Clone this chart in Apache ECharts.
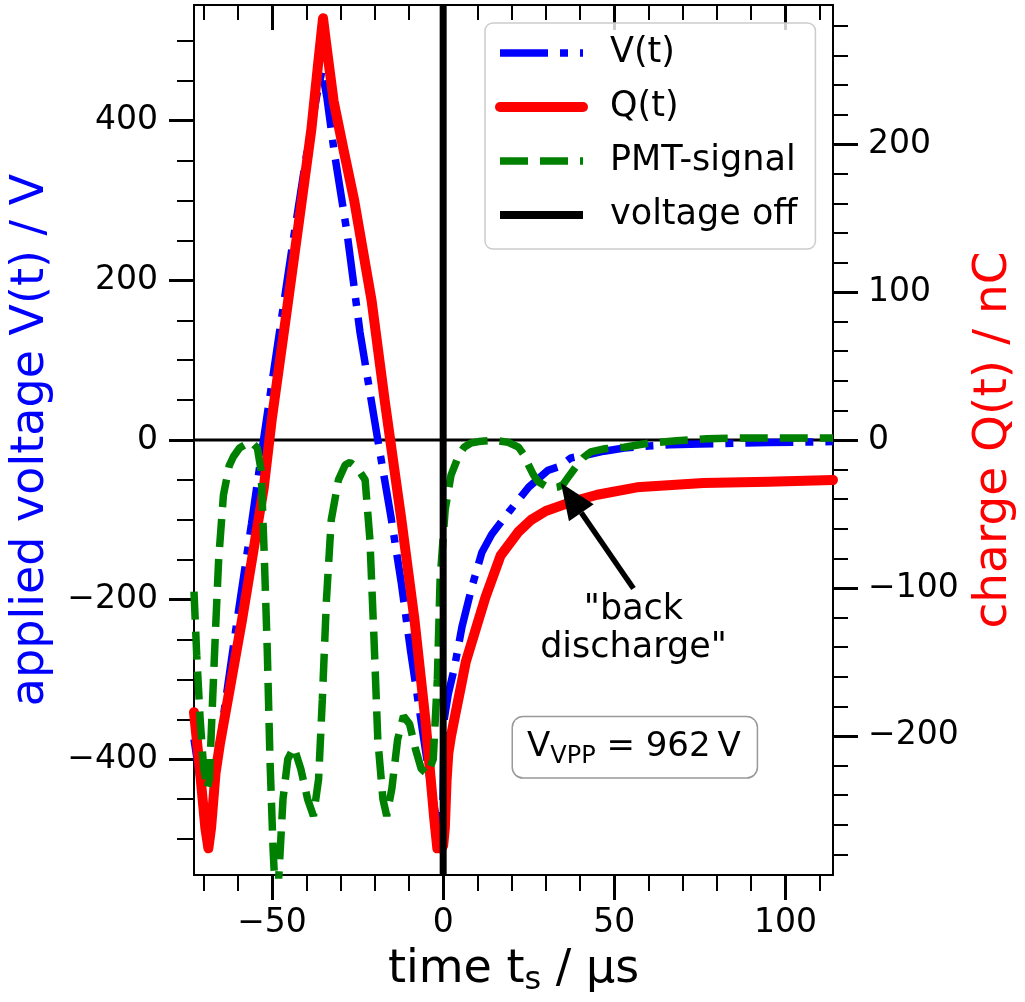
<!DOCTYPE html>
<html lang="en">
  <head>
    <meta charset="UTF-8" />
    <title>Voltage, charge and PMT signal</title>
    <script src="https://cdn.jsdelivr.net/npm/echarts@6/dist/echarts.min.js"></script>
  </head>
  <body style="margin: 0">
    <div id="main" style="width: 1025px; height: 1002px"></div>
    <script type="text/javascript">
      var FONT = "DejaVu Sans";

      // axis ranges
      var X_MIN = -72.8, X_MAX = 113.9;
      var V_MIN = -545, V_MAX = 545;
      var Q_MIN = -294, Q_MAX = 294;

      // tick values
      var xMajor = [-50, 0, 50, 100];
      var xMinor = [-70, -60, -40, -30, -20, -10, 10, 20, 30, 40, 60, 70, 80, 90, 110];
      var vMajor = [-400, -200, 0, 200, 400];
      var vMinor = [-500, -450, -350, -300, -250, -150, -100, -50, 50, 100, 150, 250, 300, 350, 450, 500];
      var qMajor = [-200, -100, 0, 100, 200];
      var qMinor = [-280, -260, -240, -220, -180, -160, -140, -120, -80, -60, -40, -20,
                    20, 40, 60, 80, 120, 140, 160, 180, 220, 240, 260, 280];

      // applied voltage V(t) in V
      var tV = [-72.8, -70.5, -68.6, -67, -64, -60, -56, -52.5, -48, -44, -40, -37, -35.4,
                -34, -31.8, -28.1, -24.3, -19.1, -15.3, -12.2, -9.5, -6, -3, -1.2, -0.2,
                0.3, 1.5, 3.2, 5.5, 8.4, 11.3, 14.2, 19.4, 25, 30.6, 34.1, 37.3, 42.8, 47,
                52.9, 60, 66.2, 75, 85.5, 95, 109.5, 113.9];
      var vV = [-375, -440, -495, -440, -340, -220, -105, 0, 130, 245, 355, 430, 463,
                430, 360, 260, 135, 0, -95, -180, -265, -365, -450, -495, -490,
                -350, -318, -287, -234, -184, -141, -118, -89, -59, -38, -33, -22.5, -18, -14,
                -10, -7.5, -6, -5, -4, -3, -2.5, -2];

      // charge Q(t) in nC
      var tQ = [-72.8, -71, -69.5, -68.6, -67.8, -66.5, -65.2, -62.1, -58.8, -55.6, -52.4, -50.1,
                -46, -42, -38.5, -36.5, -35.1, -34.3, -32, -29, -26, -20.9, -17.1, -12.2, -8.4,
                -5.2, -2.6, -1.7, -0.5, 0, 0.5, 1, 1.5, 2.3, 3.5, 5.5, 6.6, 9.5, 12.4, 16.8, 22,
                25.7, 30, 37.3, 45, 56.6, 76, 95, 113.9];
      var qQ = [-184, -225, -262, -276, -262, -225, -205, -165, -122, -77, -32, 13.5,
                82, 150, 210, 255, 285, 270, 229, 195, 162, 94, 27, -54, -121,
                -189, -256, -276, -276, -274, -262, -230, -212, -200, -186, -163, -150, -128, -106, -78, -62,
                -54, -48, -42, -37, -32, -29, -28.3, -27];

      // PMT signal (scaled to the voltage axis)
      var tP = [-72.8, -72, -71, -70, -69, -68.3, -67.6, -66.5, -65.6, -64.2, -62.5, -61.3, -59.5,
                -57.5, -56.1, -55.2, -54.3, -53.2, -52.3, -51.4, -50.6, -49.7, -48.8, -48, -46.8,
                -45.4, -43.6, -41.6, -39.6, -37.9, -36.4, -35.3, -34.1, -32.7, -30.6, -28.6, -27.2,
                -25.1, -22.8, -21.4, -20.2, -19.1, -17.6, -16.5, -15, -13.3, -11.6, -9.8, -8.1,
                -6.4, -4.6, -2.9, -1.7, -0.9, 0.6, 2.3, 4.6, 6.1, 8, 10.4, 13, 16.2, 19, 22, 23.5,
                24.9, 26.3, 27.7, 30, 32.1, 33.5, 35, 36.8, 38.7, 41, 43.1, 47, 52.9, 60, 68.2, 77,
                85.5, 100, 113.9];
      var pP = [-190, -270, -350, -410, -437, -425, -350, -237, -150, -69, -32, -21, -10,
                -5, -2, -6, -10, -38, -141, -262, -400, -512, -590, -545, -450,
                -400, -385, -412, -450, -471, -425, -325, -200, -100, -50, -31, -28,
                -35, -50, -125, -250, -375, -450, -471, -437, -375, -346, -356, -387,
                -412, -419, -400, -300, -175, -87, -44, -19, -9, -4, -2, -1, -1, -3, -9, -18,
                -31, -43, -52, -58, -60, -59, -56, -45, -34, -22, -15, -11, -9, -4, -1, 1.5,
                2.5, 2.5, 2.5];

      var T_OFF = 0; // voltage switched off

      // annotation anchors in data coordinates (t, V)
      var arrowTip = [34.4, -54];
      var arrowTail = [55.6, -186];
      var vppBox = [56, -385];

      function pairs(xs, ys) {
        return xs.map(function (x, i) {
          return [x, ys[i]];
        });
      }
      function fmt(v) {
        return v < 0 ? "\u2212" + Math.abs(v) : String(v);
      }

      var black = "#000000";
      var tickLabel = { fontSize: 33, color: black, fontFamily: FONT, formatter: fmt };
      var frame = { show: true, onZero: false, lineStyle: { color: black, width: 2 } };
      var noLine = { show: false, onZero: false };

      var myChart = echarts.init(document.getElementById("main"));

      var option = {
        animation: false,
        backgroundColor: "#ffffff",
        textStyle: { fontFamily: FONT },
        grid: { left: 192, right: 187, top: 5, bottom: 125 },
        legend: {
          data: [
            { name: "V(t)", lineStyle: { width: 7.5 } },
            { name: "Q(t)", lineStyle: { width: 10 } },
            { name: "PMT-signal", lineStyle: { width: 7.5 } },
            { name: "voltage off", lineStyle: { width: 8 } },
          ],
          orient: "vertical",
          left: 485,
          top: 23,
          itemWidth: 83,
          itemHeight: 14,
          itemGap: 14,
          padding: [10, 18, 14, 10],
          borderColor: "#cccccc",
          borderWidth: 1.5,
          borderRadius: 8,
          backgroundColor: "rgba(255,255,255,0.8)",
          itemStyle: { color: "rgba(0,0,0,0)", borderWidth: 0, opacity: 0 },
          textStyle: { fontSize: 35, fontFamily: FONT, color: black, lineHeight: 40, padding: [0, 0, 0, 22] },
        },
        xAxis: [
          {
            type: "value", position: "bottom", min: X_MIN, max: X_MAX,
            splitLine: { show: false },
            axisLine: frame,
            axisTick: { show: true, customValues: xMajor, length: 25, lineStyle: { color: black, width: 3 } },
            axisLabel: Object.assign({ customValues: xMajor, margin: 32 }, tickLabel),
            name: "{a|time t}{s|s}{a| / \u03bcs}",
            nameLocation: "middle",
            nameGap: 68,
            nameTextStyle: {
              rich: {
                a: { fontSize: 46, lineHeight: 54, color: black, fontFamily: FONT },
                s: { fontSize: 32, lineHeight: 34, verticalAlign: "bottom", color: black, fontFamily: FONT },
              },
            },
          },
          {
            type: "value", position: "bottom", min: X_MIN, max: X_MAX,
            splitLine: { show: false }, axisLine: noLine, axisLabel: { show: false },
            axisTick: { show: true, customValues: xMinor, length: 16, lineStyle: { color: black, width: 2 } },
          },
          {
            type: "value", position: "top", min: X_MIN, max: X_MAX,
            splitLine: { show: false }, axisLabel: { show: false },
            axisLine: frame,
            axisTick: { show: true, inside: true, customValues: xMajor, length: 25, lineStyle: { color: black, width: 3 } },
          },
          {
            type: "value", position: "top", min: X_MIN, max: X_MAX,
            splitLine: { show: false }, axisLine: noLine, axisLabel: { show: false },
            axisTick: { show: true, inside: true, customValues: xMinor, length: 15, lineStyle: { color: black, width: 2 } },
          },
        ],
        yAxis: [
          {
            type: "value", position: "left", min: V_MIN, max: V_MAX,
            splitLine: { show: false },
            axisLine: frame,
            axisTick: { show: true, customValues: vMajor, length: 25, lineStyle: { color: black, width: 3 } },
            axisLabel: Object.assign({ customValues: vMajor, margin: 36 }, tickLabel),
            name: "applied voltage V(t) / V",
            nameLocation: "middle",
            nameRotate: 90,
            nameGap: 140,
            nameTextStyle: { color: "#0000ff", fontSize: 46, fontFamily: FONT },
          },
          {
            type: "value", position: "right", min: Q_MIN, max: Q_MAX,
            splitLine: { show: false },
            axisLine: frame,
            axisTick: { show: true, customValues: qMajor, length: 25, lineStyle: { color: black, width: 3 } },
            axisLabel: Object.assign({ customValues: qMajor, margin: 35 }, tickLabel),
            name: "charge Q(t) / nC",
            nameLocation: "middle",
            nameRotate: 90,
            nameGap: 137,
            nameTextStyle: { color: "#ff0000", fontSize: 47, fontFamily: FONT },
          },
          {
            type: "value", position: "left", min: V_MIN, max: V_MAX,
            splitLine: { show: false }, axisLine: noLine, axisLabel: { show: false },
            axisTick: { show: true, customValues: vMinor, length: 17, lineStyle: { color: black, width: 2 } },
          },
          {
            type: "value", position: "right", min: Q_MIN, max: Q_MAX,
            splitLine: { show: false }, axisLine: noLine, axisLabel: { show: false },
            axisTick: { show: true, customValues: qMinor, length: 15, lineStyle: { color: black, width: 2 } },
          },
        ],
        series: [
          {
            name: "zero",
            type: "line",
            symbol: "none",
            z: 1,
            data: [[X_MIN, 0], [X_MAX, 0]],
            lineStyle: { color: black, width: 3 },
            silent: true,
          },
          {
            name: "V(t)",
            type: "line",
            symbol: "none",
            z: 2,
            data: pairs(tV, vV),
            lineStyle: { color: "#0000ff", width: 7.5, type: [48, 12, 8, 12], cap: "butt" },
            itemStyle: { color: "#0000ff" },
          },
          {
            name: "Q(t)",
            type: "line",
            symbol: "none",
            yAxisIndex: 1,
            z: 3,
            data: pairs(tQ, qQ),
            lineStyle: { color: "#ff0000", width: 10, join: "round", cap: "round" },
            itemStyle: { color: "#ff0000" },
          },
          {
            name: "PMT-signal",
            type: "line",
            symbol: "none",
            z: 4,
            data: pairs(tP, pP),
            lineStyle: { color: "#008000", width: 7.5, type: [28, 12], cap: "butt" },
            itemStyle: { color: "#008000" },
          },
          {
            name: "voltage off",
            type: "line",
            symbol: "none",
            z: 5,
            data: [[T_OFF, V_MIN], [T_OFF, V_MAX]],
            lineStyle: { color: black, width: 7 },
            itemStyle: { color: black },
          },
        ],
      };
      myChart.setOption(option);

      // annotation arrow, its label and the V_VPP box, placed from data coordinates
      var tip = myChart.convertToPixel({ xAxisIndex: 0, yAxisIndex: 0 }, arrowTip);
      var tail = myChart.convertToPixel({ xAxisIndex: 0, yAxisIndex: 0 }, arrowTail);
      var box = myChart.convertToPixel({ xAxisIndex: 0, yAxisIndex: 0 }, vppBox);

      var dx = tip[0] - tail[0], dy = tip[1] - tail[1];
      var len = Math.sqrt(dx * dx + dy * dy);
      var ux = dx / len, uy = dy / len;
      var headLen = 36, headHalf = 15;
      var base = [tip[0] - ux * headLen, tip[1] - uy * headLen];

      myChart.setOption({
        graphic: [
          {
            type: "line",
            z: 20,
            shape: { x1: tail[0], y1: tail[1], x2: base[0], y2: base[1] },
            style: { stroke: black, lineWidth: 5.5 },
          },
          {
            type: "polygon",
            z: 20,
            shape: {
              points: [
                tip,
                [base[0] - uy * headHalf, base[1] + ux * headHalf],
                [base[0] + uy * headHalf, base[1] - ux * headHalf],
              ],
            },
            style: { fill: black },
          },
          {
            type: "text",
            z: 20,
            x: tail[0],
            y: tail[1] + 2,
            style: {
              text: '"back\ndischarge"',
              align: "center",
              verticalAlign: "top",
              font: "35px " + FONT,
              lineHeight: 38,
              fill: black,
            },
          },
          {
            type: "text",
            z: 20,
            x: box[0],
            y: box[1],
            style: {
              text: "{v|V}{s|VPP}{v| = 962\u2009V}",
              align: "center",
              verticalAlign: "middle",
              backgroundColor: "#ffffff",
              borderColor: "#999999",
              borderWidth: 1.5,
              borderRadius: 10,
              padding: [9, 16, 9, 14],
              rich: {
                v: { fontSize: 34, lineHeight: 42, fontFamily: FONT, fill: black },
                s: { fontSize: 24, lineHeight: 26, verticalAlign: "bottom", fontFamily: FONT, fill: black },
              },
            },
          },
        ],
      });
    </script>
  </body>
</html>
